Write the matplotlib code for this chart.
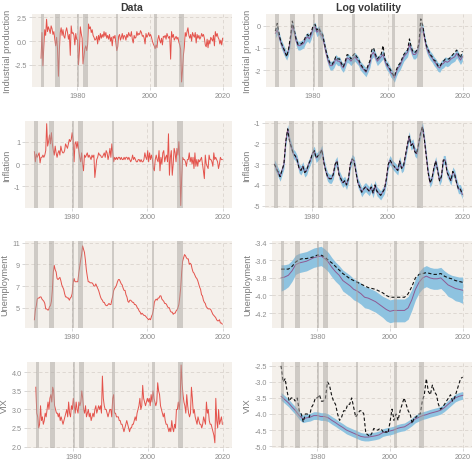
"""Macro data and estimated log volatility, four series."""

import matplotlib
matplotlib.use("Agg")
import matplotlib.pyplot as plt
import numpy as np


# ---------------------------------------------------------------------
# Data
# ---------------------------------------------------------------------
recessions = [
    (1969.92, 1970.87),
    (1973.83, 1975.17),
    (1980.0, 1980.5),
    (1981.5, 1982.83),
    (1990.5, 1991.17),
    (2001.17, 2001.83),
    (2007.92, 2009.42),
]

# quarterly observations, 1970 - 2019
ip_data = [
    -1.8, 0.9, -2.6, -0.5, 1.2, 0.6, 2.3, 1.0, 1.5, 1.2, 0.8, 1.6,
    1.3, 0.7, 1.0, 0.2, -0.5, 0.4, -0.8, -3.7, -1.0, 0.9, 1.4, 0.6,
    1.2, 0.5, 0.3, 1.0, 1.4, 0.9, 0.2, 0.7, -1.5, 1.6, 0.8, 0.9,
    0.6, -0.4, 0.8, 0.2, 0.1, -2.5, -1.0, 1.5, 0.8, 0.3, -2.4, -1.6,
    -0.8, -0.5, -1.0, -0.4, 1.8, 1.3, 1.5, 0.9, 1.2, 0.6, 0.4, 0.1,
    0.2, 0.5, -0.3, 0.6, 0.1, 0.8, 0.3, 0.7, 0.4, 1.0, 0.5, 0.9,
    0.3, 0.6, 0.2, 0.7, 0.0, 0.4, -0.5, 0.5, 0.3, 0.6, -0.2, -1.0,
    -0.6, 0.5, 0.7, 0.1, 0.4, 0.8, 0.2, 0.6, 0.5, 0.1, 0.7, 0.4,
    0.9, 0.6, 0.5, 1.0, 0.2, -0.2, 0.6, 0.3, 0.4, 1.0, 0.6, 0.8,
    0.7, 1.1, 0.9, 0.5, 0.6, 0.3, -0.3, 0.8, 0.4, 0.6, 0.9, 0.5,
    0.7, 0.4, 0.0, -0.3, -0.5, -0.8, -0.4, -0.7, 0.2, 0.6, 0.1, -0.2,
    0.3, -0.4, 0.5, 0.4, 0.6, 0.2, 0.8, 0.5, 0.3, 0.5, -1.9, 1.0,
    0.4, 0.7, 0.1, 0.3, 0.5, 0.2, 0.4, -0.1, -0.4, -0.9, -4.3, -3.1,
    -1.5, -0.6, 0.9, 0.5, 1.0, 1.4, 0.6, 0.3, 0.7, 0.0, 0.9, 0.6,
    0.4, 0.9, -0.2, 0.7, 0.3, 0.6, 0.2, 0.4, 0.8, 0.5, 0.7, 0.3,
    -0.4, -0.6, 0.2, -0.7, 0.1, -0.3, 0.4, 0.2, 0.0, 0.6, -0.5, 1.0,
    0.5, 0.8, 0.4, 0.2, -0.3, 0.1, -0.4, 0.3,
]

infl_data = [
    0.55, 0.1, 0.45, 0.3, 0.4, 0.5, 0.05, 0.3, 0.3, 0.4, 0.3, 0.4,
    0.6, 1.8, 0.8, 1.0, 1.3, 0.9, 1.4, 0.9, 0.6, 0.4, 0.8, 0.5,
    0.3, 0.5, 0.6, 0.4, 0.8, 0.6, 0.5, 0.5, 0.6, 0.9, 0.8, 0.7,
    0.9, 1.1, 1.0, 1.1, 1.4, 1.1, 0.1, 0.9, 1.0, 0.7, 1.0, 0.6,
    0.3, 0.1, 0.5, 0.0, -0.3, 0.4, 0.3, 0.4, 0.5, 0.3, 0.4, 0.3,
    0.2, 0.4, 0.3, 0.4, -0.6, -0.2, 0.2, 0.3, 0.5, 0.4, 0.4, 0.3,
    0.3, 0.4, 0.5, 0.3, 0.6, 0.5, 0.2, 0.4, 0.7, 0.3, 0.9, 0.5,
    0.1, 0.3, 0.2, 0.3, 0.2, 0.3, 0.3, 0.2, 0.3, 0.2, 0.2, 0.3,
    0.2, 0.3, 0.3, 0.2, 0.3, 0.2, 0.1, 0.2, 0.4, 0.2, 0.3, 0.2,
    0.1, 0.1, 0.2, 0.2, 0.1, 0.2, 0.1, 0.1, 0.2, 0.5, 0.3, 0.2,
    0.6, 0.1, 0.5, 0.2, 0.4, 0.2, -0.2, -0.3, 0.2, 0.4, 0.2, 0.1,
    0.6, -0.3, 0.3, 0.0, 0.5, 0.6, 0.1, 0.3, 0.4, 0.1, 1.35, -0.5,
    0.3, 0.6, -0.5, 0.0, 0.7, 0.5, 0.1, 0.7, 0.4, 1.0, 0.1, -1.85,
    -0.6, 0.3, 0.2, 0.2, 0.1, -0.1, 0.2, 0.2, 0.5, 0.1, 0.3, 0.0,
    0.3, -0.2, 0.5, -0.1, 0.2, -0.1, 0.2, 0.1, 0.2, 0.3, 0.0, -0.3,
    -0.65, 0.4, 0.0, -0.1, -0.2, 0.4, 0.2, 0.2, 0.1, -0.1, 0.5, 0.2,
    0.3, 0.2, 0.1, -0.2, 0.0, 0.3, 0.2, 0.2,
]

unemp_data = [
    3.9, 4.8, 5.2, 5.8, 5.9, 5.9, 6.0, 6.0, 5.8, 5.7, 5.6, 5.4,
    4.9, 4.9, 4.8, 4.8, 5.1, 5.2, 5.6, 6.6, 8.3, 8.9, 8.5, 8.3,
    7.7, 7.6, 7.7, 7.8, 7.5, 7.1, 6.9, 6.7, 6.3, 6.0, 6.0, 5.9,
    5.9, 5.7, 5.9, 6.0, 6.3, 7.3, 7.7, 7.4, 7.4, 7.4, 7.4, 8.2,
    8.8, 9.4, 9.9, 10.7, 10.4, 10.1, 9.4, 8.5, 7.9, 7.4, 7.4, 7.3,
    7.3, 7.3, 7.2, 7.0, 7.0, 7.2, 7.0, 6.8, 6.6, 6.3, 6.0, 5.8,
    5.7, 5.5, 5.5, 5.3, 5.2, 5.2, 5.3, 5.4, 5.3, 5.3, 5.7, 6.1,
    6.6, 6.8, 6.9, 7.1, 7.4, 7.6, 7.6, 7.4, 7.2, 7.1, 6.8, 6.6,
    6.6, 6.2, 6.0, 5.6, 5.5, 5.7, 5.7, 5.6, 5.5, 5.5, 5.3, 5.3,
    5.2, 5.0, 4.9, 4.7, 4.6, 4.4, 4.5, 4.4, 4.3, 4.3, 4.2, 4.1,
    4.0, 3.9, 4.0, 3.9, 4.2, 4.4, 4.8, 5.5, 5.7, 5.8, 5.7, 5.9,
    5.9, 6.1, 6.1, 5.8, 5.7, 5.6, 5.4, 5.4, 5.3, 5.1, 5.0, 5.0,
    4.7, 4.6, 4.6, 4.4, 4.5, 4.5, 4.7, 4.8, 5.0, 5.3, 6.0, 6.9,
    8.3, 9.3, 9.6, 9.9, 9.8, 9.6, 9.5, 9.5, 9.0, 9.1, 9.0, 8.6,
    8.3, 8.2, 8.0, 7.8, 7.7, 7.5, 7.2, 6.9, 6.7, 6.2, 6.1, 5.7,
    5.5, 5.4, 5.1, 5.0, 4.9, 4.9, 4.9, 4.8, 4.6, 4.4, 4.3, 4.2,
    4.1, 3.9, 3.8, 3.8, 3.9, 3.6, 3.6, 3.5,
]

vix_data = [
    3.6, 2.9, 2.8, 2.5, 2.6, 3.1, 2.7, 2.8, 2.6, 2.7, 2.9, 2.8,
    3.0, 3.2, 3.0, 3.3, 3.4, 3.2, 3.6, 3.5, 3.1, 3.0, 2.9, 2.9,
    2.8, 2.9, 2.7, 2.8, 2.7, 2.6, 2.7, 2.8, 2.9, 3.0, 2.8, 3.2,
    2.9, 2.8, 3.1, 3.0, 3.3, 3.1, 2.9, 3.2, 3.0, 2.9, 3.2, 3.1,
    3.2, 3.5, 3.3, 3.0, 2.9, 3.1, 2.8, 2.9, 3.0, 2.8, 2.9, 2.7,
    2.8, 2.9, 2.8, 3.0, 3.1, 2.9, 3.0, 3.1, 3.0, 3.1, 2.9, 3.9,
    3.3, 3.1, 3.0, 3.0, 2.9, 2.8, 2.9, 3.0, 3.0, 2.8, 3.3, 3.4,
    2.9, 2.9, 2.8, 2.8, 2.8, 2.7, 2.7, 2.6, 2.6, 2.5, 2.4, 2.5,
    2.6, 2.7, 2.6, 2.5, 2.4, 2.5, 2.5, 2.6, 2.6, 2.7, 2.8, 2.7,
    2.9, 3.0, 3.1, 3.3, 3.0, 3.1, 3.65, 3.3, 3.2, 3.1, 3.2, 3.3,
    3.2, 3.3, 3.1, 3.4, 3.2, 3.5, 3.3, 3.2, 3.1, 3.2, 3.72, 3.5,
    3.4, 3.1, 3.0, 2.9, 2.8, 2.9, 2.7, 2.6, 2.6, 2.5, 2.4, 2.5,
    2.4, 2.7, 2.5, 2.4, 2.6, 2.5, 3.0, 3.0, 3.2, 3.0, 3.3, 4.2,
    3.7, 3.4, 3.2, 3.1, 2.9, 3.4, 3.1, 2.9, 2.8, 2.9, 3.6, 3.3,
    2.9, 3.0, 2.8, 2.7, 2.6, 2.8, 2.7, 2.6, 2.6, 2.5, 2.6, 2.8,
    2.7, 2.6, 3.2, 2.9, 3.0, 2.7, 2.6, 2.6, 2.5, 2.4, 2.3, 2.1,
    3.3, 2.7, 2.5, 3.0, 2.6, 2.7, 2.8, 2.6,
]

# half-yearly log volatility: posterior mean, reference estimate (dashed)
ip_vol_mean = [
    -0.35, -0.2, -0.5, -0.8, -1.0, -1.2, -1.35, -1.1, -0.6, 0.0,
    -0.3, -0.7, -0.9, -0.9, -0.85, -0.8, -0.6, -0.5, -0.6, -0.4,
    -0.1, -0.05, -0.3, -0.2, -0.4, -0.5, -0.9, -1.3, -1.6, -1.8,
    -1.8, -1.7, -1.5, -1.6, -1.6, -1.8, -1.9, -1.7, -1.45, -1.5,
    -1.6, -1.5, -1.4, -1.5, -1.6, -1.8, -1.9, -2.0, -2.1, -1.9,
    -1.7, -1.3, -1.2, -1.4, -1.6, -1.5, -1.4, -1.3, -1.6, -1.8,
    -1.9, -2.1, -2.2, -2.35, -2.1, -1.9, -1.8, -1.6, -1.4, -1.3,
    -1.2, -0.85, -1.1, -1.3, -1.3, -1.2, -0.9, -0.1, -0.1, -0.6,
    -1.0, -1.2, -1.35, -1.45, -1.6, -1.7, -1.85, -1.9, -1.75, -1.7,
    -1.6, -1.65, -1.6, -1.5, -1.45, -1.4, -1.25, -1.4, -1.55, -1.4,
]
ip_vol_ref = [
    -0.25, 0.1, -0.4, -0.75, -0.95, -1.15, -1.4, -1.05, -0.5, 0.2,
    -0.2, -0.6, -0.85, -0.85, -0.8, -0.7, -0.5, -0.4, -0.5, -0.3,
    0.0, 0.05, -0.2, -0.1, -0.3, -0.4, -0.8, -1.2, -1.5, -1.7,
    -1.75, -1.6, -1.4, -1.5, -1.5, -1.7, -1.85, -1.6, -1.3, -1.35,
    -1.5, -1.35, -1.25, -1.4, -1.5, -1.7, -1.85, -1.95, -2.05, -1.8,
    -1.6, -1.1, -1.0, -1.3, -1.5, -1.4, -1.3, -0.9, -1.5, -1.7,
    -1.85, -2.0, -2.15, -2.3, -2.0, -1.8, -1.7, -1.5, -1.3, -1.2,
    -1.1, -0.6, -1.0, -1.2, -1.2, -1.1, -0.8, 0.3, 0.0, -0.5,
    -0.9, -1.1, -1.3, -1.4, -1.55, -1.6, -1.8, -1.85, -1.7, -1.6,
    -1.5, -1.5, -1.5, -1.4, -1.3, -1.2, -1.1, -1.3, -1.45, -1.15,
]
ip_vol_band = 0.2

infl_vol_mean = [
    -3.0, -3.2, -3.4, -3.6, -3.3, -3.0, -1.9, -1.3, -1.9, -2.2,
    -2.5, -2.6, -2.8, -3.2, -3.3, -3.1, -3.4, -3.3, -3.0, -2.8,
    -2.5, -2.35, -2.7, -2.6, -2.5, -2.3, -2.9, -3.3, -3.6, -3.7,
    -3.7, -3.5, -3.0, -2.85, -3.5, -3.7, -3.9, -3.8, -4.0, -3.7,
    -3.0, -2.75, -2.85, -3.4, -3.9, -4.1, -4.35, -4.2, -4.1, -4.2,
    -4.3, -4.1, -4.4, -4.0, -4.3, -4.4, -4.5, -4.35, -4.2, -3.7,
    -3.0, -2.8, -3.0, -3.1, -3.2, -3.3, -2.85, -3.2, -3.1, -2.6,
    -2.1, -1.65, -2.1, -2.0, -2.4, -2.5, -2.0, -1.5, -1.2, -1.8,
    -2.6, -3.4, -3.9, -3.7, -3.2, -2.85, -3.3, -3.8, -3.6, -2.8,
    -2.8, -3.4, -3.6, -3.8, -3.35, -3.5, -3.9, -4.2, -4.2, -4.45,
]
infl_vol_ref = infl_vol_mean
infl_vol_band = 0.22

# yearly, 1970 - 2020
unemp_vol_mean = [
    -3.80, -3.79, -3.77, -3.72, -3.65, -3.63, -3.62, -3.61, -3.59, -3.57,
    -3.56, -3.55, -3.58, -3.62, -3.68, -3.73, -3.77, -3.83, -3.86, -3.89,
    -3.93, -3.95, -3.98, -4.02, -4.03, -4.05, -4.07, -4.10, -4.13, -4.16,
    -4.18, -4.17, -4.17, -4.17, -4.17, -4.14, -4.05, -3.93, -3.85, -3.80,
    -3.78, -3.80, -3.81, -3.81, -3.80, -3.84, -3.88, -3.90, -3.92, -3.93,
    -3.94,
]
unemp_vol_ref = [
    -3.70, -3.70, -3.70, -3.67, -3.62, -3.59, -3.58, -3.58, -3.57, -3.56,
    -3.54, -3.54, -3.56, -3.60, -3.63, -3.67, -3.71, -3.75, -3.78, -3.81,
    -3.83, -3.85, -3.87, -3.89, -3.91, -3.92, -3.93, -3.95, -3.97, -4.00,
    -4.02, -4.02, -4.02, -4.02, -4.02, -3.98, -3.90, -3.80, -3.76, -3.75,
    -3.74, -3.75, -3.76, -3.76, -3.75, -3.78, -3.80, -3.81, -3.83, -3.84,
    -3.85,
]
unemp_vol_band = [
    0.15, 0.14, 0.13, 0.12, 0.11, 0.11, 0.11, 0.11, 0.11, 0.11,
    0.11, 0.11, 0.11, 0.11, 0.11, 0.11, 0.11, 0.12, 0.12, 0.12,
    0.12, 0.12, 0.12, 0.12, 0.12, 0.12, 0.12, 0.12, 0.12, 0.13,
    0.13, 0.13, 0.13, 0.13, 0.13, 0.13, 0.12, 0.12, 0.12, 0.12,
    0.12, 0.12, 0.12, 0.12, 0.12, 0.12, 0.13, 0.13, 0.14, 0.14,
    0.15,
]

vix_vol_mean = [
    -3.45, -3.55, -3.65, -3.78, -3.90, -4.05, -4.15, -4.12, -4.10, -4.05,
    -4.05, -4.08, -4.08, -4.12, -4.20, -4.27, -4.35, -4.42, -4.50, -4.55,
    -4.60, -4.65, -4.70, -4.72, -4.72, -4.70, -4.68, -4.65, -4.58, -4.55,
    -4.53, -4.50, -4.45, -4.42, -4.40, -4.33, -4.25, -4.15, -4.10, -4.05,
    -4.02, -3.98, -3.95, -3.92, -3.88, -3.80, -3.70, -3.60, -3.50, -3.45,
    -3.42,
]
vix_vol_band = 0.12

# half-yearly, 1970 - 2020
vix_vol_ref = [
    -2.5, -3.0, -2.9, -3.3, -3.6, -3.5, -3.5, -3.6, -3.5, -3.9,
    -4.0, -4.25, -4.0, -4.0, -4.1, -3.8, -3.7, -3.5, -3.5, -3.4,
    -3.6, -3.6, -3.5, -3.0, -3.1, -3.4, -3.6, -3.7, -4.0, -4.2,
    -4.1, -3.9, -3.9, -3.7, -3.7, -3.5, -3.8, -4.1, -4.0, -3.9,
    -3.9, -4.0, -4.6, -4.65, -4.7, -4.6, -4.45, -4.5, -4.5, -4.45,
    -4.5, -4.6, -4.55, -4.6, -4.25, -3.85, -4.2, -4.0, -4.2, -3.9,
    -3.7, -3.5, -3.7, -3.9, -4.0, -4.3, -4.1, -4.1, -4.0, -4.0,
    -3.6, -3.4, -2.9, -3.3, -3.4, -3.1, -3.3, -3.4, -3.7, -3.85,
    -3.8, -3.7, -3.6, -3.5, -3.4, -3.6, -3.5, -3.3, -3.1, -2.9,
    -2.85,
]

titles = ["Data", "Log volatility"]
row_labels = ["Industrial production", "Inflation", "Unemployment", "VIX"]


# ---------------------------------------------------------------------
# Style
# ---------------------------------------------------------------------
plt.rcParams.update(
    {
        "font.family": ["Liberation Sans", "DejaVu Sans"],
        "axes.unicode_minus": False,
    }
)

PANEL_BG = "#F4F0EB"
GRID = "#DAD4CE"
RECESSION = "#A9A5A1"
RED = "#E4524B"
BLUE = "#8EC3E0"
PURPLE = "#8E5A93"
TICK_TEXT = "#8C8C8C"
LABEL_TEXT = "#7A7A7A"

W, H = 474, 460

fig = plt.figure(figsize=(W / 100, H / 100), dpi=100)
fig.patch.set_facecolor("white")


def add_panel(x0, x1, y0, y1):
    # pixel box (top-left origin) -> figure fraction
    return fig.add_axes([x0 / W, 1 - y1 / H, (x1 - x0) / W, (y1 - y0) / H])


boxes_left = [(32, 232, 15, 88), (25, 232, 122, 209), (25, 232, 242, 329), (26.5, 232, 363, 449)]
boxes_right = [(266, 472, 15, 88), (265, 472, 122, 209), (272, 472, 242, 329), (272, 472, 363, 449)]

ylims_left = [(-4.83, 2.85), (-1.96, 1.92), (3.14, 11.15), (1.96, 4.28)]
ylims_right = [(-2.76, 0.52), (-5.11, -0.92), (-4.37, -3.38), (-5.06, -2.38)]

yticks_left = [
    ([-2.5, 0.0, 2.5], ["-2.5", "0.0", "2.5"]),
    ([-1, 0, 1], ["-1", "0", "1"]),
    ([5, 7, 9, 11], ["5", "7", "9", "11"]),
    ([2.0, 2.5, 3.0, 3.5, 4.0], ["2.0", "2.5", "3.0", "3.5", "4.0"]),
]
yticks_right = [
    ([-2, -1, 0], ["-2", "-1", "0"]),
    ([-5, -4, -3, -2, -1], ["-5", "-4", "-3", "-2", "-1"]),
    ([-4.2, -4.0, -3.8, -3.6, -3.4], ["-4.2", "-4.0", "-3.8", "-3.6", "-3.4"]),
    ([-5.0, -4.5, -4.0, -3.5, -3.0, -2.5], ["-5.0", "-4.5", "-4.0", "-3.5", "-3.0", "-2.5"]),
]


def style(ax, ylim, ticks, label):
    ax.set_facecolor(PANEL_BG)
    ax.set_xlim(1967.5, 2022.5)
    ax.set_ylim(*ylim)
    ax.set_xticks([1980, 2000, 2020], ["1980", "2000", "2020"])
    ax.set_yticks(ticks[0], ticks[1])
    for spine in ax.spines.values():
        spine.set_visible(False)
    ax.tick_params(
        axis="both",
        length=2,
        width=0.5,
        color="#C8C8C8",
        labelcolor=TICK_TEXT,
        labelsize=5.2,
        pad=1.5,
    )
    ax.set_axisbelow(True)
    ax.grid(True, color=GRID, linewidth=0.6, linestyle=(0, (4, 3)))
    ax.set_ylabel(label, fontsize=6.6, color=LABEL_TEXT, labelpad=2)
    for start, end in recessions:
        ax.axvspan(start, end, color=RECESSION, alpha=0.5, linewidth=0, zorder=3)


def times(values):
    return np.linspace(1970, 2019.92, len(values))


left_series = [ip_data, infl_data, unemp_data, vix_data]
right_series = [
    (ip_vol_mean, ip_vol_ref, ip_vol_band),
    (infl_vol_mean, infl_vol_ref, infl_vol_band),
    (unemp_vol_mean, unemp_vol_ref, unemp_vol_band),
    (vix_vol_mean, vix_vol_ref, vix_vol_band),
]

for row in range(4):
    # data column
    ax = add_panel(*boxes_left[row])
    values = np.array(left_series[row])
    ax.plot(times(values), values, color=RED, linewidth=0.7, zorder=2)
    style(ax, ylims_left[row], yticks_left[row], row_labels[row])
    if row == 0:
        ax.set_title(titles[0], fontsize=7.6, fontweight="bold", color="#3A3A3A", pad=3)

    # volatility column
    ax = add_panel(*boxes_right[row])
    mean, ref, band = right_series[row]
    mean = np.array(mean)
    ref = np.array(ref)
    band = np.array(band)
    ax.fill_between(times(mean), mean - band, mean + band, color=BLUE, linewidth=0, zorder=1)
    ax.plot(times(mean), mean, color=PURPLE, linewidth=0.7, zorder=2)
    ax.plot(times(ref), ref, color="#111111", linewidth=0.8, linestyle=(0, (3, 2)), zorder=2.5)
    style(ax, ylims_right[row], yticks_right[row], row_labels[row])
    if row == 0:
        ax.set_title(titles[1], fontsize=7.6, fontweight="bold", color="#3A3A3A", pad=3)

fig.savefig("out.png", dpi=100, facecolor="white")
plt.close(fig)
